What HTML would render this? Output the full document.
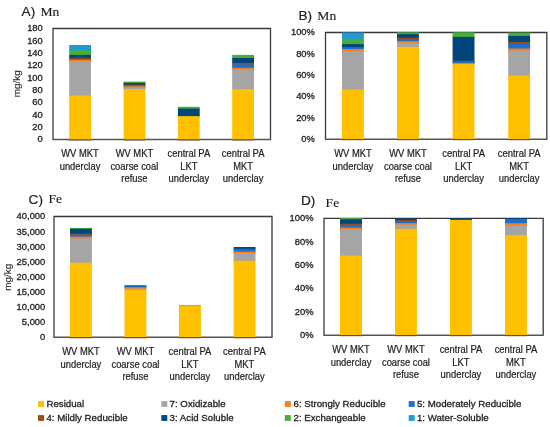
<!DOCTYPE html>
<html><head><meta charset="utf-8"><style>
html,body{margin:0;padding:0;background:#fff;width:550px;height:427px;overflow:hidden}
svg{display:block;filter:blur(0.3px)}
</style></head><body>
<svg width="550" height="427" viewBox="0 0 550 427">
<rect x="0" y="0" width="550" height="427" fill="#fff"/>
<path d="M53,139.5 L53,28.5 L270.5,28.5 L270.5,139.5" fill="none" stroke="#3a3a3a" stroke-width="1.3"/>
<line x1="52.4" y1="139.5" x2="271.1" y2="139.5" stroke="#555" stroke-width="1.5"/>
<rect x="69.20" y="45.00" width="21.80" height="6.35" fill="#1E9BD7"/>
<rect x="69.20" y="50.35" width="21.80" height="5.55" fill="#46AF3A"/>
<rect x="69.20" y="54.90" width="21.80" height="3.90" fill="#02457B"/>
<rect x="69.20" y="57.80" width="21.80" height="2.00" fill="#A04B14"/>
<rect x="69.20" y="58.80" width="21.80" height="2.00" fill="#1C6FCC"/>
<rect x="69.20" y="59.80" width="21.80" height="2.20" fill="#F77F22"/>
<rect x="69.20" y="61.00" width="21.80" height="35.50" fill="#A5A5A5"/>
<rect x="69.20" y="95.50" width="21.80" height="44.20" fill="#FFC000"/>
<rect x="123.60" y="81.60" width="21.80" height="2.30" fill="#46AF3A"/>
<rect x="123.60" y="82.90" width="21.80" height="2.70" fill="#02457B"/>
<rect x="123.60" y="84.60" width="21.80" height="1.80" fill="#A04B14"/>
<rect x="123.60" y="85.40" width="21.80" height="1.80" fill="#1C6FCC"/>
<rect x="123.60" y="86.20" width="21.80" height="2.70" fill="#F77F22"/>
<rect x="123.60" y="87.90" width="21.80" height="2.30" fill="#A5A5A5"/>
<rect x="123.60" y="89.20" width="21.80" height="50.50" fill="#FFC000"/>
<rect x="177.90" y="106.80" width="21.80" height="2.85" fill="#46AF3A"/>
<rect x="177.90" y="108.65" width="21.80" height="8.45" fill="#02457B"/>
<rect x="177.90" y="116.10" width="21.80" height="23.60" fill="#FFC000"/>
<rect x="232.20" y="54.90" width="21.80" height="4.10" fill="#46AF3A"/>
<rect x="232.20" y="58.00" width="21.80" height="5.90" fill="#02457B"/>
<rect x="232.20" y="62.90" width="21.80" height="2.40" fill="#A04B14"/>
<rect x="232.20" y="64.30" width="21.80" height="4.50" fill="#1C6FCC"/>
<rect x="232.20" y="67.80" width="21.80" height="2.90" fill="#F77F22"/>
<rect x="232.20" y="69.70" width="21.80" height="20.50" fill="#A5A5A5"/>
<rect x="232.20" y="89.20" width="21.80" height="50.50" fill="#FFC000"/>
<rect x="69.20" y="139.40" width="21.80" height="1.1" fill="#4a4030" fill-opacity="0.85"/>
<rect x="123.60" y="139.40" width="21.80" height="1.1" fill="#4a4030" fill-opacity="0.85"/>
<rect x="177.90" y="139.40" width="21.80" height="1.1" fill="#4a4030" fill-opacity="0.85"/>
<rect x="232.20" y="139.40" width="21.80" height="1.1" fill="#4a4030" fill-opacity="0.85"/>
<text transform="translate(42.80,142.40) scale(1,1.0)" text-anchor="end" font-family="Liberation Sans" font-size="9.4" fill="#1e1e1e" stroke="#1e1e1e" stroke-width="0.3" >0</text>
<text transform="translate(42.80,130.07) scale(1,1.0)" text-anchor="end" font-family="Liberation Sans" font-size="9.4" fill="#1e1e1e" stroke="#1e1e1e" stroke-width="0.3" >20</text>
<text transform="translate(42.80,117.73) scale(1,1.0)" text-anchor="end" font-family="Liberation Sans" font-size="9.4" fill="#1e1e1e" stroke="#1e1e1e" stroke-width="0.3" >40</text>
<text transform="translate(42.80,105.40) scale(1,1.0)" text-anchor="end" font-family="Liberation Sans" font-size="9.4" fill="#1e1e1e" stroke="#1e1e1e" stroke-width="0.3" >60</text>
<text transform="translate(42.80,93.07) scale(1,1.0)" text-anchor="end" font-family="Liberation Sans" font-size="9.4" fill="#1e1e1e" stroke="#1e1e1e" stroke-width="0.3" >80</text>
<text transform="translate(42.80,80.73) scale(1,1.0)" text-anchor="end" font-family="Liberation Sans" font-size="9.4" fill="#1e1e1e" stroke="#1e1e1e" stroke-width="0.3" >100</text>
<text transform="translate(42.80,68.40) scale(1,1.0)" text-anchor="end" font-family="Liberation Sans" font-size="9.4" fill="#1e1e1e" stroke="#1e1e1e" stroke-width="0.3" >120</text>
<text transform="translate(42.80,56.07) scale(1,1.0)" text-anchor="end" font-family="Liberation Sans" font-size="9.4" fill="#1e1e1e" stroke="#1e1e1e" stroke-width="0.3" >140</text>
<text transform="translate(42.80,43.73) scale(1,1.0)" text-anchor="end" font-family="Liberation Sans" font-size="9.4" fill="#1e1e1e" stroke="#1e1e1e" stroke-width="0.3" >160</text>
<text transform="translate(42.80,31.40) scale(1,1.0)" text-anchor="end" font-family="Liberation Sans" font-size="9.4" fill="#1e1e1e" stroke="#1e1e1e" stroke-width="0.3" >180</text>
<text transform="translate(80.00,157.00) scale(1,1.08)" text-anchor="middle" font-family="Liberation Sans" font-size="9.4" fill="#1e1e1e" stroke="#1e1e1e" stroke-width="0.2" >WV MKT</text>
<text transform="translate(80.00,169.50) scale(1,1.08)" text-anchor="middle" font-family="Liberation Sans" font-size="9.4" fill="#1e1e1e" stroke="#1e1e1e" stroke-width="0.2" >underclay</text>
<text transform="translate(134.40,157.00) scale(1,1.08)" text-anchor="middle" font-family="Liberation Sans" font-size="9.4" fill="#1e1e1e" stroke="#1e1e1e" stroke-width="0.2" >WV MKT</text>
<text transform="translate(134.40,169.50) scale(1,1.08)" text-anchor="middle" font-family="Liberation Sans" font-size="9.4" fill="#1e1e1e" stroke="#1e1e1e" stroke-width="0.2" >coarse coal</text>
<text transform="translate(134.40,181.90) scale(1,1.08)" text-anchor="middle" font-family="Liberation Sans" font-size="9.4" fill="#1e1e1e" stroke="#1e1e1e" stroke-width="0.2" >refuse</text>
<text transform="translate(188.85,157.00) scale(1,1.08)" text-anchor="middle" font-family="Liberation Sans" font-size="9.4" fill="#1e1e1e" stroke="#1e1e1e" stroke-width="0.2" >central PA</text>
<text transform="translate(188.85,169.50) scale(1,1.08)" text-anchor="middle" font-family="Liberation Sans" font-size="9.4" fill="#1e1e1e" stroke="#1e1e1e" stroke-width="0.2" >LKT</text>
<text transform="translate(188.85,181.90) scale(1,1.08)" text-anchor="middle" font-family="Liberation Sans" font-size="9.4" fill="#1e1e1e" stroke="#1e1e1e" stroke-width="0.2" >underclay</text>
<text transform="translate(243.10,157.00) scale(1,1.08)" text-anchor="middle" font-family="Liberation Sans" font-size="9.4" fill="#1e1e1e" stroke="#1e1e1e" stroke-width="0.2" >central PA</text>
<text transform="translate(243.10,169.50) scale(1,1.08)" text-anchor="middle" font-family="Liberation Sans" font-size="9.4" fill="#1e1e1e" stroke="#1e1e1e" stroke-width="0.2" >MKT</text>
<text transform="translate(243.10,181.90) scale(1,1.08)" text-anchor="middle" font-family="Liberation Sans" font-size="9.4" fill="#1e1e1e" stroke="#1e1e1e" stroke-width="0.2" >underclay</text>
<text transform="translate(21.60,16.10) scale(1,1.0)" text-anchor="start" font-family="Liberation Sans" font-size="13.6" fill="#1e1e1e" stroke="#1e1e1e" stroke-width="0.2" >A)</text>
<text transform="translate(40.50,16.40) scale(1,0.96)" text-anchor="start" font-family="Liberation Serif" font-size="13.6" fill="#1a1a1a" stroke="#1a1a1a" stroke-width="0.12" >Mn</text>
<path d="M325.5,139.2 L325.5,32.5 L546.8,32.5 L546.8,139.2" fill="none" stroke="#3a3a3a" stroke-width="1.3"/>
<line x1="324.9" y1="139.2" x2="547.4" y2="139.2" stroke="#555" stroke-width="1.5"/>
<rect x="342.00" y="32.50" width="21.90" height="7.30" fill="#1E9BD7"/>
<rect x="342.00" y="38.80" width="21.90" height="6.30" fill="#46AF3A"/>
<rect x="342.00" y="44.10" width="21.90" height="3.90" fill="#02457B"/>
<rect x="342.00" y="47.00" width="21.90" height="1.90" fill="#A04B14"/>
<rect x="342.00" y="47.90" width="21.90" height="2.10" fill="#1C6FCC"/>
<rect x="342.00" y="49.00" width="21.90" height="3.00" fill="#F77F22"/>
<rect x="342.00" y="51.00" width="21.90" height="39.50" fill="#A5A5A5"/>
<rect x="342.00" y="89.50" width="21.90" height="49.90" fill="#FFC000"/>
<rect x="397.00" y="32.30" width="21.90" height="2.90" fill="#46AF3A"/>
<rect x="397.00" y="34.20" width="21.90" height="4.60" fill="#02457B"/>
<rect x="397.00" y="37.80" width="21.90" height="2.50" fill="#A04B14"/>
<rect x="397.00" y="39.30" width="21.90" height="2.80" fill="#1C6FCC"/>
<rect x="397.00" y="41.10" width="21.90" height="2.70" fill="#F77F22"/>
<rect x="397.00" y="42.80" width="21.90" height="5.10" fill="#A5A5A5"/>
<rect x="397.00" y="46.90" width="21.90" height="92.50" fill="#FFC000"/>
<rect x="452.60" y="32.30" width="21.90" height="5.60" fill="#46AF3A"/>
<rect x="452.60" y="36.90" width="21.90" height="24.90" fill="#02457B"/>
<rect x="452.60" y="60.80" width="21.90" height="2.20" fill="#A04B14"/>
<rect x="452.60" y="62.00" width="21.90" height="2.00" fill="#1C6FCC"/>
<rect x="452.60" y="63.00" width="21.90" height="2.10" fill="#F77F22"/>
<rect x="452.60" y="64.10" width="21.90" height="75.30" fill="#FFC000"/>
<rect x="508.20" y="32.60" width="21.90" height="4.30" fill="#46AF3A"/>
<rect x="508.20" y="35.90" width="21.90" height="7.00" fill="#02457B"/>
<rect x="508.20" y="41.90" width="21.90" height="3.00" fill="#A04B14"/>
<rect x="508.20" y="43.90" width="21.90" height="5.60" fill="#1C6FCC"/>
<rect x="508.20" y="48.50" width="21.90" height="3.10" fill="#F77F22"/>
<rect x="508.20" y="50.60" width="21.90" height="25.90" fill="#A5A5A5"/>
<rect x="508.20" y="75.50" width="21.90" height="63.90" fill="#FFC000"/>
<rect x="342.00" y="139.10" width="21.90" height="1.1" fill="#4a4030" fill-opacity="0.85"/>
<rect x="397.00" y="139.10" width="21.90" height="1.1" fill="#4a4030" fill-opacity="0.85"/>
<rect x="452.60" y="139.10" width="21.90" height="1.1" fill="#4a4030" fill-opacity="0.85"/>
<rect x="508.20" y="139.10" width="21.90" height="1.1" fill="#4a4030" fill-opacity="0.85"/>
<text transform="translate(314.90,142.10) scale(1,1.0)" text-anchor="end" font-family="Liberation Sans" font-size="9.4" fill="#1e1e1e" stroke="#1e1e1e" stroke-width="0.3" >0%</text>
<text transform="translate(314.90,120.76) scale(1,1.0)" text-anchor="end" font-family="Liberation Sans" font-size="9.4" fill="#1e1e1e" stroke="#1e1e1e" stroke-width="0.3" >20%</text>
<text transform="translate(314.90,99.42) scale(1,1.0)" text-anchor="end" font-family="Liberation Sans" font-size="9.4" fill="#1e1e1e" stroke="#1e1e1e" stroke-width="0.3" >40%</text>
<text transform="translate(314.90,78.08) scale(1,1.0)" text-anchor="end" font-family="Liberation Sans" font-size="9.4" fill="#1e1e1e" stroke="#1e1e1e" stroke-width="0.3" >60%</text>
<text transform="translate(314.90,56.74) scale(1,1.0)" text-anchor="end" font-family="Liberation Sans" font-size="9.4" fill="#1e1e1e" stroke="#1e1e1e" stroke-width="0.3" >80%</text>
<text transform="translate(314.90,35.40) scale(1,1.0)" text-anchor="end" font-family="Liberation Sans" font-size="9.4" fill="#1e1e1e" stroke="#1e1e1e" stroke-width="0.3" >100%</text>
<text transform="translate(352.95,156.80) scale(1,1.08)" text-anchor="middle" font-family="Liberation Sans" font-size="9.4" fill="#1e1e1e" stroke="#1e1e1e" stroke-width="0.2" >WV MKT</text>
<text transform="translate(352.95,169.90) scale(1,1.08)" text-anchor="middle" font-family="Liberation Sans" font-size="9.4" fill="#1e1e1e" stroke="#1e1e1e" stroke-width="0.2" >underclay</text>
<text transform="translate(407.95,156.80) scale(1,1.08)" text-anchor="middle" font-family="Liberation Sans" font-size="9.4" fill="#1e1e1e" stroke="#1e1e1e" stroke-width="0.2" >WV MKT</text>
<text transform="translate(407.95,169.90) scale(1,1.08)" text-anchor="middle" font-family="Liberation Sans" font-size="9.4" fill="#1e1e1e" stroke="#1e1e1e" stroke-width="0.2" >coarse coal</text>
<text transform="translate(407.95,181.90) scale(1,1.08)" text-anchor="middle" font-family="Liberation Sans" font-size="9.4" fill="#1e1e1e" stroke="#1e1e1e" stroke-width="0.2" >refuse</text>
<text transform="translate(463.60,156.80) scale(1,1.08)" text-anchor="middle" font-family="Liberation Sans" font-size="9.4" fill="#1e1e1e" stroke="#1e1e1e" stroke-width="0.2" >central PA</text>
<text transform="translate(463.60,169.90) scale(1,1.08)" text-anchor="middle" font-family="Liberation Sans" font-size="9.4" fill="#1e1e1e" stroke="#1e1e1e" stroke-width="0.2" >LKT</text>
<text transform="translate(463.60,181.90) scale(1,1.08)" text-anchor="middle" font-family="Liberation Sans" font-size="9.4" fill="#1e1e1e" stroke="#1e1e1e" stroke-width="0.2" >underclay</text>
<text transform="translate(519.15,156.80) scale(1,1.08)" text-anchor="middle" font-family="Liberation Sans" font-size="9.4" fill="#1e1e1e" stroke="#1e1e1e" stroke-width="0.2" >central PA</text>
<text transform="translate(519.15,169.90) scale(1,1.08)" text-anchor="middle" font-family="Liberation Sans" font-size="9.4" fill="#1e1e1e" stroke="#1e1e1e" stroke-width="0.2" >MKT</text>
<text transform="translate(519.15,181.90) scale(1,1.08)" text-anchor="middle" font-family="Liberation Sans" font-size="9.4" fill="#1e1e1e" stroke="#1e1e1e" stroke-width="0.2" >underclay</text>
<text transform="translate(298.50,20.20) scale(1,1.0)" text-anchor="start" font-family="Liberation Sans" font-size="13.6" fill="#1e1e1e" stroke="#1e1e1e" stroke-width="0.2" >B)</text>
<text transform="translate(317.30,20.30) scale(1,0.96)" text-anchor="start" font-family="Liberation Serif" font-size="13.6" fill="#1a1a1a" stroke="#1a1a1a" stroke-width="0.12" >Mn</text>
<path d="M54,337.3 L54,216.5 L272,216.5 L272,337.3" fill="none" stroke="#3a3a3a" stroke-width="1.3"/>
<line x1="53.4" y1="337.3" x2="272.6" y2="337.3" stroke="#555" stroke-width="1.5"/>
<rect x="70.00" y="227.90" width="21.90" height="1.90" fill="#46AF3A"/>
<rect x="70.00" y="228.80" width="21.90" height="5.90" fill="#02457B"/>
<rect x="70.00" y="233.70" width="21.90" height="1.90" fill="#A04B14"/>
<rect x="70.00" y="234.60" width="21.90" height="3.00" fill="#1C6FCC"/>
<rect x="70.00" y="236.60" width="21.90" height="2.80" fill="#F77F22"/>
<rect x="70.00" y="238.40" width="21.90" height="25.30" fill="#A5A5A5"/>
<rect x="70.00" y="262.70" width="21.90" height="74.80" fill="#FFC000"/>
<rect x="124.50" y="285.30" width="21.90" height="2.00" fill="#02457B"/>
<rect x="124.50" y="286.30" width="21.90" height="2.00" fill="#1C6FCC"/>
<rect x="124.50" y="287.30" width="21.90" height="2.20" fill="#F77F22"/>
<rect x="124.50" y="288.50" width="21.90" height="2.50" fill="#A5A5A5"/>
<rect x="124.50" y="290.00" width="21.90" height="47.50" fill="#FFC000"/>
<rect x="179.00" y="304.90" width="21.90" height="2.00" fill="#A5A5A5"/>
<rect x="179.00" y="305.90" width="21.90" height="31.60" fill="#FFC000"/>
<rect x="233.60" y="247.00" width="21.90" height="2.80" fill="#02457B"/>
<rect x="233.60" y="248.80" width="21.90" height="3.80" fill="#1C6FCC"/>
<rect x="233.60" y="251.60" width="21.90" height="2.40" fill="#F77F22"/>
<rect x="233.60" y="253.00" width="21.90" height="8.70" fill="#A5A5A5"/>
<rect x="233.60" y="260.70" width="21.90" height="76.80" fill="#FFC000"/>
<rect x="70.00" y="337.20" width="21.90" height="1.1" fill="#4a4030" fill-opacity="0.85"/>
<rect x="124.50" y="337.20" width="21.90" height="1.1" fill="#4a4030" fill-opacity="0.85"/>
<rect x="179.00" y="337.20" width="21.90" height="1.1" fill="#4a4030" fill-opacity="0.85"/>
<rect x="233.60" y="337.20" width="21.90" height="1.1" fill="#4a4030" fill-opacity="0.85"/>
<text transform="translate(45.30,340.20) scale(1,1.0)" text-anchor="end" font-family="Liberation Sans" font-size="9.4" fill="#1e1e1e" stroke="#1e1e1e" stroke-width="0.3" >0</text>
<text transform="translate(45.30,325.10) scale(1,1.0)" text-anchor="end" font-family="Liberation Sans" font-size="9.4" fill="#1e1e1e" stroke="#1e1e1e" stroke-width="0.3" >5,000</text>
<text transform="translate(45.30,310.00) scale(1,1.0)" text-anchor="end" font-family="Liberation Sans" font-size="9.4" fill="#1e1e1e" stroke="#1e1e1e" stroke-width="0.3" >10,000</text>
<text transform="translate(45.30,294.90) scale(1,1.0)" text-anchor="end" font-family="Liberation Sans" font-size="9.4" fill="#1e1e1e" stroke="#1e1e1e" stroke-width="0.3" >15,000</text>
<text transform="translate(45.30,279.80) scale(1,1.0)" text-anchor="end" font-family="Liberation Sans" font-size="9.4" fill="#1e1e1e" stroke="#1e1e1e" stroke-width="0.3" >20,000</text>
<text transform="translate(45.30,264.70) scale(1,1.0)" text-anchor="end" font-family="Liberation Sans" font-size="9.4" fill="#1e1e1e" stroke="#1e1e1e" stroke-width="0.3" >25,000</text>
<text transform="translate(45.30,249.60) scale(1,1.0)" text-anchor="end" font-family="Liberation Sans" font-size="9.4" fill="#1e1e1e" stroke="#1e1e1e" stroke-width="0.3" >30,000</text>
<text transform="translate(45.30,234.50) scale(1,1.0)" text-anchor="end" font-family="Liberation Sans" font-size="9.4" fill="#1e1e1e" stroke="#1e1e1e" stroke-width="0.3" >35,000</text>
<text transform="translate(45.30,219.40) scale(1,1.0)" text-anchor="end" font-family="Liberation Sans" font-size="9.4" fill="#1e1e1e" stroke="#1e1e1e" stroke-width="0.3" >40,000</text>
<text transform="translate(80.95,355.10) scale(1,1.08)" text-anchor="middle" font-family="Liberation Sans" font-size="9.4" fill="#1e1e1e" stroke="#1e1e1e" stroke-width="0.2" >WV MKT</text>
<text transform="translate(80.95,368.20) scale(1,1.08)" text-anchor="middle" font-family="Liberation Sans" font-size="9.4" fill="#1e1e1e" stroke="#1e1e1e" stroke-width="0.2" >underclay</text>
<text transform="translate(135.45,355.10) scale(1,1.08)" text-anchor="middle" font-family="Liberation Sans" font-size="9.4" fill="#1e1e1e" stroke="#1e1e1e" stroke-width="0.2" >WV MKT</text>
<text transform="translate(135.45,368.20) scale(1,1.08)" text-anchor="middle" font-family="Liberation Sans" font-size="9.4" fill="#1e1e1e" stroke="#1e1e1e" stroke-width="0.2" >coarse coal</text>
<text transform="translate(135.45,380.40) scale(1,1.08)" text-anchor="middle" font-family="Liberation Sans" font-size="9.4" fill="#1e1e1e" stroke="#1e1e1e" stroke-width="0.2" >refuse</text>
<text transform="translate(189.90,355.10) scale(1,1.08)" text-anchor="middle" font-family="Liberation Sans" font-size="9.4" fill="#1e1e1e" stroke="#1e1e1e" stroke-width="0.2" >central PA</text>
<text transform="translate(189.90,368.20) scale(1,1.08)" text-anchor="middle" font-family="Liberation Sans" font-size="9.4" fill="#1e1e1e" stroke="#1e1e1e" stroke-width="0.2" >LKT</text>
<text transform="translate(189.90,380.40) scale(1,1.08)" text-anchor="middle" font-family="Liberation Sans" font-size="9.4" fill="#1e1e1e" stroke="#1e1e1e" stroke-width="0.2" >underclay</text>
<text transform="translate(244.35,355.10) scale(1,1.08)" text-anchor="middle" font-family="Liberation Sans" font-size="9.4" fill="#1e1e1e" stroke="#1e1e1e" stroke-width="0.2" >central PA</text>
<text transform="translate(244.35,368.20) scale(1,1.08)" text-anchor="middle" font-family="Liberation Sans" font-size="9.4" fill="#1e1e1e" stroke="#1e1e1e" stroke-width="0.2" >MKT</text>
<text transform="translate(244.35,380.40) scale(1,1.08)" text-anchor="middle" font-family="Liberation Sans" font-size="9.4" fill="#1e1e1e" stroke="#1e1e1e" stroke-width="0.2" >underclay</text>
<text transform="translate(28.60,204.30) scale(1,1.0)" text-anchor="start" font-family="Liberation Sans" font-size="13.6" fill="#1e1e1e" stroke="#1e1e1e" stroke-width="0.2" >C)</text>
<text transform="translate(48.40,203.10) scale(1,0.88)" text-anchor="start" font-family="Liberation Serif" font-size="13.6" fill="#1a1a1a" stroke="#1a1a1a" stroke-width="0.12" >Fe</text>
<path d="M324,335.2 L324,218.3 L543.2,218.3 L543.2,335.2" fill="none" stroke="#3a3a3a" stroke-width="1.3"/>
<line x1="323.4" y1="335.2" x2="543.8000000000001" y2="335.2" stroke="#555" stroke-width="1.5"/>
<rect x="340.00" y="218.10" width="22.00" height="2.20" fill="#46AF3A"/>
<rect x="340.00" y="219.30" width="22.00" height="5.40" fill="#02457B"/>
<rect x="340.00" y="223.70" width="22.00" height="2.20" fill="#A04B14"/>
<rect x="340.00" y="224.90" width="22.00" height="3.70" fill="#1C6FCC"/>
<rect x="340.00" y="227.60" width="22.00" height="2.70" fill="#F77F22"/>
<rect x="340.00" y="229.30" width="22.00" height="27.30" fill="#A5A5A5"/>
<rect x="340.00" y="255.60" width="22.00" height="79.80" fill="#FFC000"/>
<rect x="395.00" y="218.30" width="21.90" height="2.80" fill="#02457B"/>
<rect x="395.00" y="220.10" width="21.90" height="1.90" fill="#A04B14"/>
<rect x="395.00" y="221.00" width="21.90" height="3.10" fill="#1C6FCC"/>
<rect x="395.00" y="223.10" width="21.90" height="2.50" fill="#F77F22"/>
<rect x="395.00" y="224.60" width="21.90" height="5.30" fill="#A5A5A5"/>
<rect x="395.00" y="228.90" width="21.90" height="106.50" fill="#FFC000"/>
<rect x="450.00" y="218.20" width="21.90" height="2.70" fill="#02457B"/>
<rect x="450.00" y="219.90" width="21.90" height="115.50" fill="#FFC000"/>
<rect x="505.00" y="218.20" width="21.90" height="1.80" fill="#02457B"/>
<rect x="505.00" y="219.00" width="21.90" height="5.20" fill="#1C6FCC"/>
<rect x="505.00" y="223.20" width="21.90" height="3.50" fill="#F77F22"/>
<rect x="505.00" y="225.70" width="21.90" height="10.50" fill="#A5A5A5"/>
<rect x="505.00" y="235.20" width="21.90" height="100.20" fill="#FFC000"/>
<rect x="340.00" y="335.10" width="22.00" height="1.1" fill="#4a4030" fill-opacity="0.85"/>
<rect x="395.00" y="335.10" width="21.90" height="1.1" fill="#4a4030" fill-opacity="0.85"/>
<rect x="450.00" y="335.10" width="21.90" height="1.1" fill="#4a4030" fill-opacity="0.85"/>
<rect x="505.00" y="335.10" width="21.90" height="1.1" fill="#4a4030" fill-opacity="0.85"/>
<text transform="translate(313.60,338.10) scale(1,1.0)" text-anchor="end" font-family="Liberation Sans" font-size="9.4" fill="#1e1e1e" stroke="#1e1e1e" stroke-width="0.3" >0%</text>
<text transform="translate(313.60,314.72) scale(1,1.0)" text-anchor="end" font-family="Liberation Sans" font-size="9.4" fill="#1e1e1e" stroke="#1e1e1e" stroke-width="0.3" >20%</text>
<text transform="translate(313.60,291.34) scale(1,1.0)" text-anchor="end" font-family="Liberation Sans" font-size="9.4" fill="#1e1e1e" stroke="#1e1e1e" stroke-width="0.3" >40%</text>
<text transform="translate(313.60,267.96) scale(1,1.0)" text-anchor="end" font-family="Liberation Sans" font-size="9.4" fill="#1e1e1e" stroke="#1e1e1e" stroke-width="0.3" >60%</text>
<text transform="translate(313.60,244.58) scale(1,1.0)" text-anchor="end" font-family="Liberation Sans" font-size="9.4" fill="#1e1e1e" stroke="#1e1e1e" stroke-width="0.3" >80%</text>
<text transform="translate(313.60,221.20) scale(1,1.0)" text-anchor="end" font-family="Liberation Sans" font-size="9.4" fill="#1e1e1e" stroke="#1e1e1e" stroke-width="0.3" >100%</text>
<text transform="translate(351.00,352.90) scale(1,1.08)" text-anchor="middle" font-family="Liberation Sans" font-size="9.4" fill="#1e1e1e" stroke="#1e1e1e" stroke-width="0.2" >WV MKT</text>
<text transform="translate(351.00,366.00) scale(1,1.08)" text-anchor="middle" font-family="Liberation Sans" font-size="9.4" fill="#1e1e1e" stroke="#1e1e1e" stroke-width="0.2" >underclay</text>
<text transform="translate(405.95,352.90) scale(1,1.08)" text-anchor="middle" font-family="Liberation Sans" font-size="9.4" fill="#1e1e1e" stroke="#1e1e1e" stroke-width="0.2" >WV MKT</text>
<text transform="translate(405.95,366.00) scale(1,1.08)" text-anchor="middle" font-family="Liberation Sans" font-size="9.4" fill="#1e1e1e" stroke="#1e1e1e" stroke-width="0.2" >coarse coal</text>
<text transform="translate(405.95,378.40) scale(1,1.08)" text-anchor="middle" font-family="Liberation Sans" font-size="9.4" fill="#1e1e1e" stroke="#1e1e1e" stroke-width="0.2" >refuse</text>
<text transform="translate(460.95,352.90) scale(1,1.08)" text-anchor="middle" font-family="Liberation Sans" font-size="9.4" fill="#1e1e1e" stroke="#1e1e1e" stroke-width="0.2" >central PA</text>
<text transform="translate(460.95,366.00) scale(1,1.08)" text-anchor="middle" font-family="Liberation Sans" font-size="9.4" fill="#1e1e1e" stroke="#1e1e1e" stroke-width="0.2" >LKT</text>
<text transform="translate(460.95,378.40) scale(1,1.08)" text-anchor="middle" font-family="Liberation Sans" font-size="9.4" fill="#1e1e1e" stroke="#1e1e1e" stroke-width="0.2" >underclay</text>
<text transform="translate(515.95,352.90) scale(1,1.08)" text-anchor="middle" font-family="Liberation Sans" font-size="9.4" fill="#1e1e1e" stroke="#1e1e1e" stroke-width="0.2" >central PA</text>
<text transform="translate(515.95,366.00) scale(1,1.08)" text-anchor="middle" font-family="Liberation Sans" font-size="9.4" fill="#1e1e1e" stroke="#1e1e1e" stroke-width="0.2" >MKT</text>
<text transform="translate(515.95,378.40) scale(1,1.08)" text-anchor="middle" font-family="Liberation Sans" font-size="9.4" fill="#1e1e1e" stroke="#1e1e1e" stroke-width="0.2" >underclay</text>
<text transform="translate(301.00,204.50) scale(1,1.0)" text-anchor="start" font-family="Liberation Sans" font-size="13.6" fill="#1e1e1e" stroke="#1e1e1e" stroke-width="0.2" >D)</text>
<text transform="translate(325.60,206.70) scale(1,0.88)" text-anchor="start" font-family="Liberation Serif" font-size="13.6" fill="#1a1a1a" stroke="#1a1a1a" stroke-width="0.12" >Fe</text>
<text transform="translate(20.2,83.8) rotate(-90)" text-anchor="middle" font-family="Liberation Sans" font-size="9.9" fill="#1e1e1e" stroke="#1e1e1e" stroke-width="0.15">mg/kg</text>
<text transform="translate(11.4,277.3) rotate(-90)" text-anchor="middle" font-family="Liberation Sans" font-size="9.9" fill="#1e1e1e" stroke="#1e1e1e" stroke-width="0.15">mg/kg</text>
<rect x="38.00" y="401.10" width="6.00" height="5.80" fill="#FFC000"/>
<text transform="translate(46.40,407.30) scale(1,1.0)" text-anchor="start" font-family="Liberation Sans" font-size="9.7" fill="#1e1e1e" stroke="#1e1e1e" stroke-width="0.3" >Residual</text>
<rect x="161.30" y="401.10" width="6.00" height="5.80" fill="#A5A5A5"/>
<text transform="translate(169.60,407.30) scale(1,1.0)" text-anchor="start" font-family="Liberation Sans" font-size="9.7" fill="#1e1e1e" stroke="#1e1e1e" stroke-width="0.3" >7: Oxidizable</text>
<rect x="284.80" y="401.10" width="6.00" height="5.80" fill="#F77F22"/>
<text transform="translate(293.50,407.30) scale(1,1.0)" text-anchor="start" font-family="Liberation Sans" font-size="9.7" fill="#1e1e1e" stroke="#1e1e1e" stroke-width="0.3" >6: Strongly Reducible</text>
<rect x="408.70" y="401.10" width="6.00" height="5.80" fill="#1C6FCC"/>
<text transform="translate(416.90,407.30) scale(1,1.0)" text-anchor="start" font-family="Liberation Sans" font-size="9.7" fill="#1e1e1e" stroke="#1e1e1e" stroke-width="0.3" >5: Moderately Reducible</text>
<rect x="38.00" y="415.10" width="6.00" height="5.80" fill="#A04B14"/>
<text transform="translate(46.40,421.30) scale(1,1.0)" text-anchor="start" font-family="Liberation Sans" font-size="9.7" fill="#1e1e1e" stroke="#1e1e1e" stroke-width="0.3" >4: Mildly Reducible</text>
<rect x="161.30" y="415.10" width="6.00" height="5.80" fill="#02457B"/>
<text transform="translate(169.60,421.30) scale(1,1.0)" text-anchor="start" font-family="Liberation Sans" font-size="9.7" fill="#1e1e1e" stroke="#1e1e1e" stroke-width="0.3" >3: Acid Soluble</text>
<rect x="284.80" y="415.10" width="6.00" height="5.80" fill="#46AF3A"/>
<text transform="translate(293.50,421.30) scale(1,1.0)" text-anchor="start" font-family="Liberation Sans" font-size="9.7" fill="#1e1e1e" stroke="#1e1e1e" stroke-width="0.3" >2: Exchangeable</text>
<rect x="408.70" y="415.10" width="6.00" height="5.80" fill="#1E9BD7"/>
<text transform="translate(416.90,421.30) scale(1,1.0)" text-anchor="start" font-family="Liberation Sans" font-size="9.7" fill="#1e1e1e" stroke="#1e1e1e" stroke-width="0.3" >1: Water-Soluble</text>
</svg>
</body></html>
